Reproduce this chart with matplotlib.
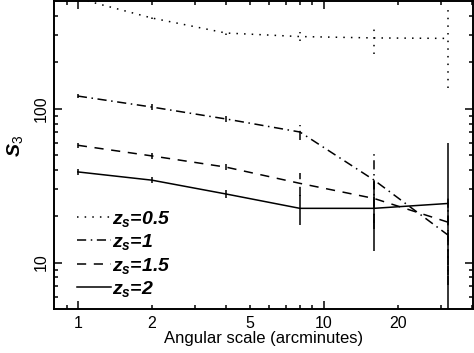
import matplotlib
matplotlib.use("Agg")
import matplotlib.pyplot as plt
from matplotlib.lines import Line2D
from matplotlib.ticker import FixedLocator, FuncFormatter, NullFormatter

plt.rcParams['font.family'] = ['Liberation Sans', 'DejaVu Sans']
plt.rcParams['mathtext.fontset'] = 'custom'
plt.rcParams['mathtext.rm'] = 'Liberation Sans'
plt.rcParams['mathtext.it'] = 'Liberation Sans:italic:bold'

# angular scale (arcmin)
theta = [1, 2, 4, 8, 16, 32]

# S3 for each source redshift, with error bars
s3_z05 = [520, 388, 310, 294, 288, 286]
err_z05 = [10, 8, 8, 20, 60, 150]
s3_z1 = [120.7, 102.4, 85.7, 70.5, 34.4, 15.1]
err_z1 = [4, 4, 4, 8, 18, 8]
s3_z15 = [57.8, 49.3, 41.7, 32.7, 26.1, 18.3]
err_z15 = [2, 2, 2, 5.5, 8, 10]
s3_z2 = [38.8, 34.3, 27.9, 22.5, 22.5, 24.2]
err_z2 = [1.5, 1.5, 1.5, 4.9, 10.7, 36]

labels = [r'$z_s$=0.5', r'$z_s$=1', r'$z_s$=1.5', r'$z_s$=2']

fig = plt.figure(figsize=(4.74, 3.53), dpi=100)
ax = fig.add_axes([0.114, 0.125, 0.884, 0.872])
ax.set_xscale('log')
ax.set_yscale('log', nonpositive='clip')

styles = [(0, (1, 4)), (0, (6, 3, 1, 3)), (0, (6, 5)), '-']
series = [(s3_z05, err_z05), (s3_z1, err_z1), (s3_z15, err_z15), (s3_z2, err_z2)]
handles = []
for (vals, errs), ls, lab in zip(series, styles, labels):
    line, caps, bars = ax.errorbar(theta, vals, yerr=errs, color='black',
                                   lw=1.1, elinewidth=1.1, capsize=0)
    line.set_linestyle(ls)
    for b in bars:
        b.set_linestyle(ls)
    handles.append(Line2D([], [], color='black', lw=1.1, ls=ls, label=lab))

ax.set_xlim(0.8, 40.5)
ax.set_ylim(5, 500)

ax.xaxis.set_major_locator(FixedLocator([1, 10]))
ax.xaxis.set_minor_locator(FixedLocator([0.9, 2, 3, 4, 5, 6, 7, 8, 9, 20, 30, 40]))
ax.xaxis.set_major_formatter(FuncFormatter(lambda v, p: '%g' % v))
ax.xaxis.set_minor_formatter(FuncFormatter(lambda v, p: '%g' % v if v in (2, 5, 20) else ''))

ax.yaxis.set_major_locator(FixedLocator([10, 100]))
ax.yaxis.set_minor_locator(FixedLocator([6, 7, 8, 9, 20, 30, 40, 50, 60, 70, 80, 90, 200, 300, 400]))
ax.yaxis.set_major_formatter(FuncFormatter(lambda v, p: '%g' % v))
ax.yaxis.set_minor_formatter(NullFormatter())

ax.tick_params(which='both', direction='in', top=True, right=True, width=1.1,
               labelsize=11.5, colors='black')
ax.tick_params(which='major', length=6)
ax.tick_params(which='minor', length=3.2)
ax.tick_params(axis='x', which='both', pad=5)
ax.tick_params(axis='y', which='both', labelrotation=90, pad=4)
for t in ax.get_yticklabels():
    t.set_va('center')

for sp in ax.spines.values():
    sp.set_linewidth(1.4)

ax.set_xlabel('Angular scale (arcminutes)', fontsize=12, labelpad=0)
ax.set_ylabel(r'$S_3$', fontsize=14)
ax.yaxis.set_label_coords(-0.07, 0.53)

ax.legend(handles=handles, loc='lower left', bbox_to_anchor=(0.014, -0.025), frameon=False,
          handlelength=1.75, handletextpad=0.05, labelspacing=0.18,
          prop={'size': 14, 'style': 'italic', 'weight': 'bold'})

fig.savefig('out.png', dpi=100)
